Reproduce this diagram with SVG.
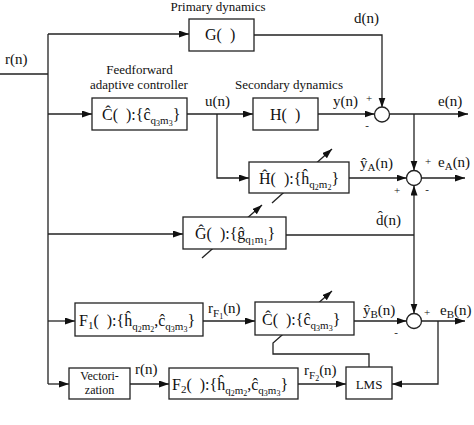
<svg xmlns="http://www.w3.org/2000/svg" width="474" height="425" viewBox="0 0 474 425">
<style>
text{font-family:"Liberation Serif","Times New Roman",serif;fill:#111}
.lb{font-size:15px}
.bx{font-size:16px}
.cap{font-size:13px}
.cap2{font-size:12px}
.sg{font-size:11px}
.s{font-size:11px}
.ss{font-size:8px}
.box{fill:#fff;stroke:#222;stroke-width:1.3}
.sum{fill:#fff;stroke:#222;stroke-width:1.3}
.c{fill:none;stroke:#222;stroke-width:1.3}
.a{marker-end:url(#ah)}
</style>
<defs>
<marker id="ah" markerUnits="userSpaceOnUse" markerWidth="11" markerHeight="8" refX="10" refY="3.5" orient="auto">
<path d="M0 0 L10 3.5 L0 7 z" fill="#111"/>
</marker>
</defs>
<rect width="474" height="425" fill="#fff"/>
<g id="connectors">
<path class="c" d="M0 74 H48 M48 34 V384"/>
<path class="c a" d="M48 34 H189"/>
<path class="c a" d="M254 35 H382 V107.5"/>
<path class="c a" d="M48 114 H92"/>
<path class="c a" d="M187 114 H253"/>
<path class="c a" d="M318 114 H374.5"/>
<path class="c a" d="M389.5 114 H468"/>
<path class="c a" d="M414 114 V170.5"/>
<path class="c a" d="M217 114 V178 H249"/>
<path class="c a" d="M349 178 H406.5"/>
<path class="c a" d="M421.5 178 H465"/>
<path class="c a" d="M48 234 H183"/>
<path class="c" d="M286 235 H414"/>
<path class="c a" d="M414 235 V185.5"/>
<path class="c a" d="M414 235 V313.5"/>
<path class="c a" d="M48 321 H75"/>
<path class="c a" d="M203 321 H255"/>
<path class="c a" d="M354 321 H406.5"/>
<path class="c a" d="M421.5 321 H465"/>
<path class="c a" d="M438 321 V384 H392"/>
<path class="c a" d="M48 384 H69"/>
<path class="c a" d="M130 384 H169"/>
<path class="c a" d="M298 384 H346"/>
<path class="c a" d="M369 367 V354 H273 V343 L332 291"/>
<path class="c a" d="M202 258 L262 205"/>
<path class="c a" d="M272 203 L332 149"/>
</g>
<g id="G">
<rect class="box" x="189" y="19" width="65" height="32"/>
<text class="bx" x="205" y="40" xml:space="preserve">G(  )</text>
<text class="cap" x="218" y="11" text-anchor="middle">Primary dynamics</text>
</g>
<g id="C">
<rect class="box" x="92" y="98" width="95" height="32"/>
<text class="bx" x="102" y="120" xml:space="preserve">Ĉ(  ):{ĉ<tspan class="s" dy="4">q</tspan><tspan class="ss" dy="2">3</tspan><tspan class="s" dy="-2">m</tspan><tspan class="ss" dy="2">3</tspan><tspan dy="-6">}</tspan></text>
<text class="cap" x="139.5" y="74" text-anchor="middle">Feedforward</text>
<text class="cap" x="139" y="89" text-anchor="middle">adaptive controller</text>
</g>
<g id="H">
<rect class="box" x="253" y="98" width="65" height="32"/>
<text class="bx" x="270" y="120" xml:space="preserve">H(  )</text>
<text class="cap" x="235" y="89">Secondary dynamics</text>
</g>
<g id="sum1"><circle class="sum" cx="382" cy="114.5" r="7.5"/></g>
<g id="Hhat">
<rect class="box" x="249" y="162" width="100" height="31"/>
<text class="bx" x="259" y="184" xml:space="preserve">Ĥ(  ):{ĥ<tspan class="s" dy="4">q</tspan><tspan class="ss" dy="2">2</tspan><tspan class="s" dy="-2">m</tspan><tspan class="ss" dy="2">2</tspan><tspan dy="-6">}</tspan></text>
</g>
<g id="sum2"><circle class="sum" cx="414" cy="178" r="7.5"/></g>
<g id="Ghat">
<rect class="box" x="183" y="217" width="103" height="32"/>
<text class="bx" x="195" y="239" xml:space="preserve">Ĝ(  ):{ĝ<tspan class="s" dy="4">q</tspan><tspan class="ss" dy="2">1</tspan><tspan class="s" dy="-2">m</tspan><tspan class="ss" dy="2">1</tspan><tspan dy="-6">}</tspan></text>
</g>
<g id="F1">
<rect class="box" x="75" y="303" width="128" height="33"/>
<text class="bx" x="79" y="326" xml:space="preserve">F<tspan class="s" dy="3">1</tspan><tspan dy="-3">(  ):{ĥ</tspan><tspan class="s" dy="4">q</tspan><tspan class="ss" dy="2">2</tspan><tspan class="s" dy="-2">m</tspan><tspan class="ss" dy="2">2</tspan><tspan dy="-6">,ĉ</tspan><tspan class="s" dy="4">q</tspan><tspan class="ss" dy="2">3</tspan><tspan class="s" dy="-2">m</tspan><tspan class="ss" dy="2">3</tspan><tspan dy="-6">}</tspan></text>
</g>
<g id="Chat">
<rect class="box" x="255" y="302" width="99" height="33"/>
<text class="bx" x="262" y="325" xml:space="preserve">Ĉ(  ):{ĉ<tspan class="s" dy="4">q</tspan><tspan class="ss" dy="2">3</tspan><tspan class="s" dy="-2">m</tspan><tspan class="ss" dy="2">3</tspan><tspan dy="-6">}</tspan></text>
</g>
<g id="sum3"><circle class="sum" cx="414" cy="321" r="7.5"/></g>
<g id="Vect">
<rect class="box" x="69" y="368" width="61" height="31"/>
<text class="cap2" x="99.5" y="380" text-anchor="middle">Vectori-</text>
<text class="cap2" x="99.5" y="394" text-anchor="middle">zation</text>
</g>
<g id="F2">
<rect class="box" x="169" y="368" width="129" height="31"/>
<text class="bx" x="172" y="390" xml:space="preserve">F<tspan class="s" dy="3">2</tspan><tspan dy="-3">(  ):{ĥ</tspan><tspan class="s" dy="4">q</tspan><tspan class="ss" dy="2">2</tspan><tspan class="s" dy="-2">m</tspan><tspan class="ss" dy="2">2</tspan><tspan dy="-6">,ĉ</tspan><tspan class="s" dy="4">q</tspan><tspan class="ss" dy="2">3</tspan><tspan class="s" dy="-2">m</tspan><tspan class="ss" dy="2">3</tspan><tspan dy="-6">}</tspan></text>
</g>
<g id="LMS">
<rect class="box" x="346" y="367" width="46" height="32"/>
<text class="cap" x="369" y="389" text-anchor="middle">LMS</text>
</g>
<g id="labels">
<text class="lb" x="5" y="64">r(n)</text>
<text class="lb" x="354" y="23">d(n)</text>
<text class="lb" x="205" y="106">u(n)</text>
<text class="lb" x="333" y="106">y(n)</text>
<text class="lb" x="438" y="106">e(n)</text>
<text class="sg" x="369" y="102" text-anchor="middle">+</text>
<text class="sg" x="367" y="129" text-anchor="middle">-</text>
<text class="lb" x="360" y="168">ŷ<tspan class="s" dy="3">A</tspan><tspan dy="-3">(n)</tspan></text>
<text class="lb" x="438" y="167">e<tspan class="s" dy="3">A</tspan><tspan dy="-3">(n)</tspan></text>
<text class="sg" x="428" y="165" text-anchor="middle">+</text>
<text class="sg" x="397" y="194" text-anchor="middle">+</text>
<text class="sg" x="427" y="193" text-anchor="middle">-</text>
<text class="lb" x="376" y="225">d̂(n)</text>
<text class="lb" x="208" y="313">r<tspan class="s" dy="4">F</tspan><tspan class="ss" dy="2">1</tspan><tspan dy="-6">(n)</tspan></text>
<text class="lb" x="363" y="315">ŷ<tspan class="s" dy="3">B</tspan><tspan dy="-3">(n)</tspan></text>
<text class="lb" x="440" y="315">e<tspan class="s" dy="3">B</tspan><tspan dy="-3">(n)</tspan></text>
<text class="sg" x="427" y="316" text-anchor="middle">+</text>
<text class="sg" x="396" y="336" text-anchor="middle">-</text>
<text class="lb" x="304" y="375">r<tspan class="s" dy="4">F</tspan><tspan class="ss" dy="2">2</tspan><tspan dy="-6">(n)</tspan></text>
<text class="lb" x="135" y="374">r(n)</text>
</g>
</svg>
